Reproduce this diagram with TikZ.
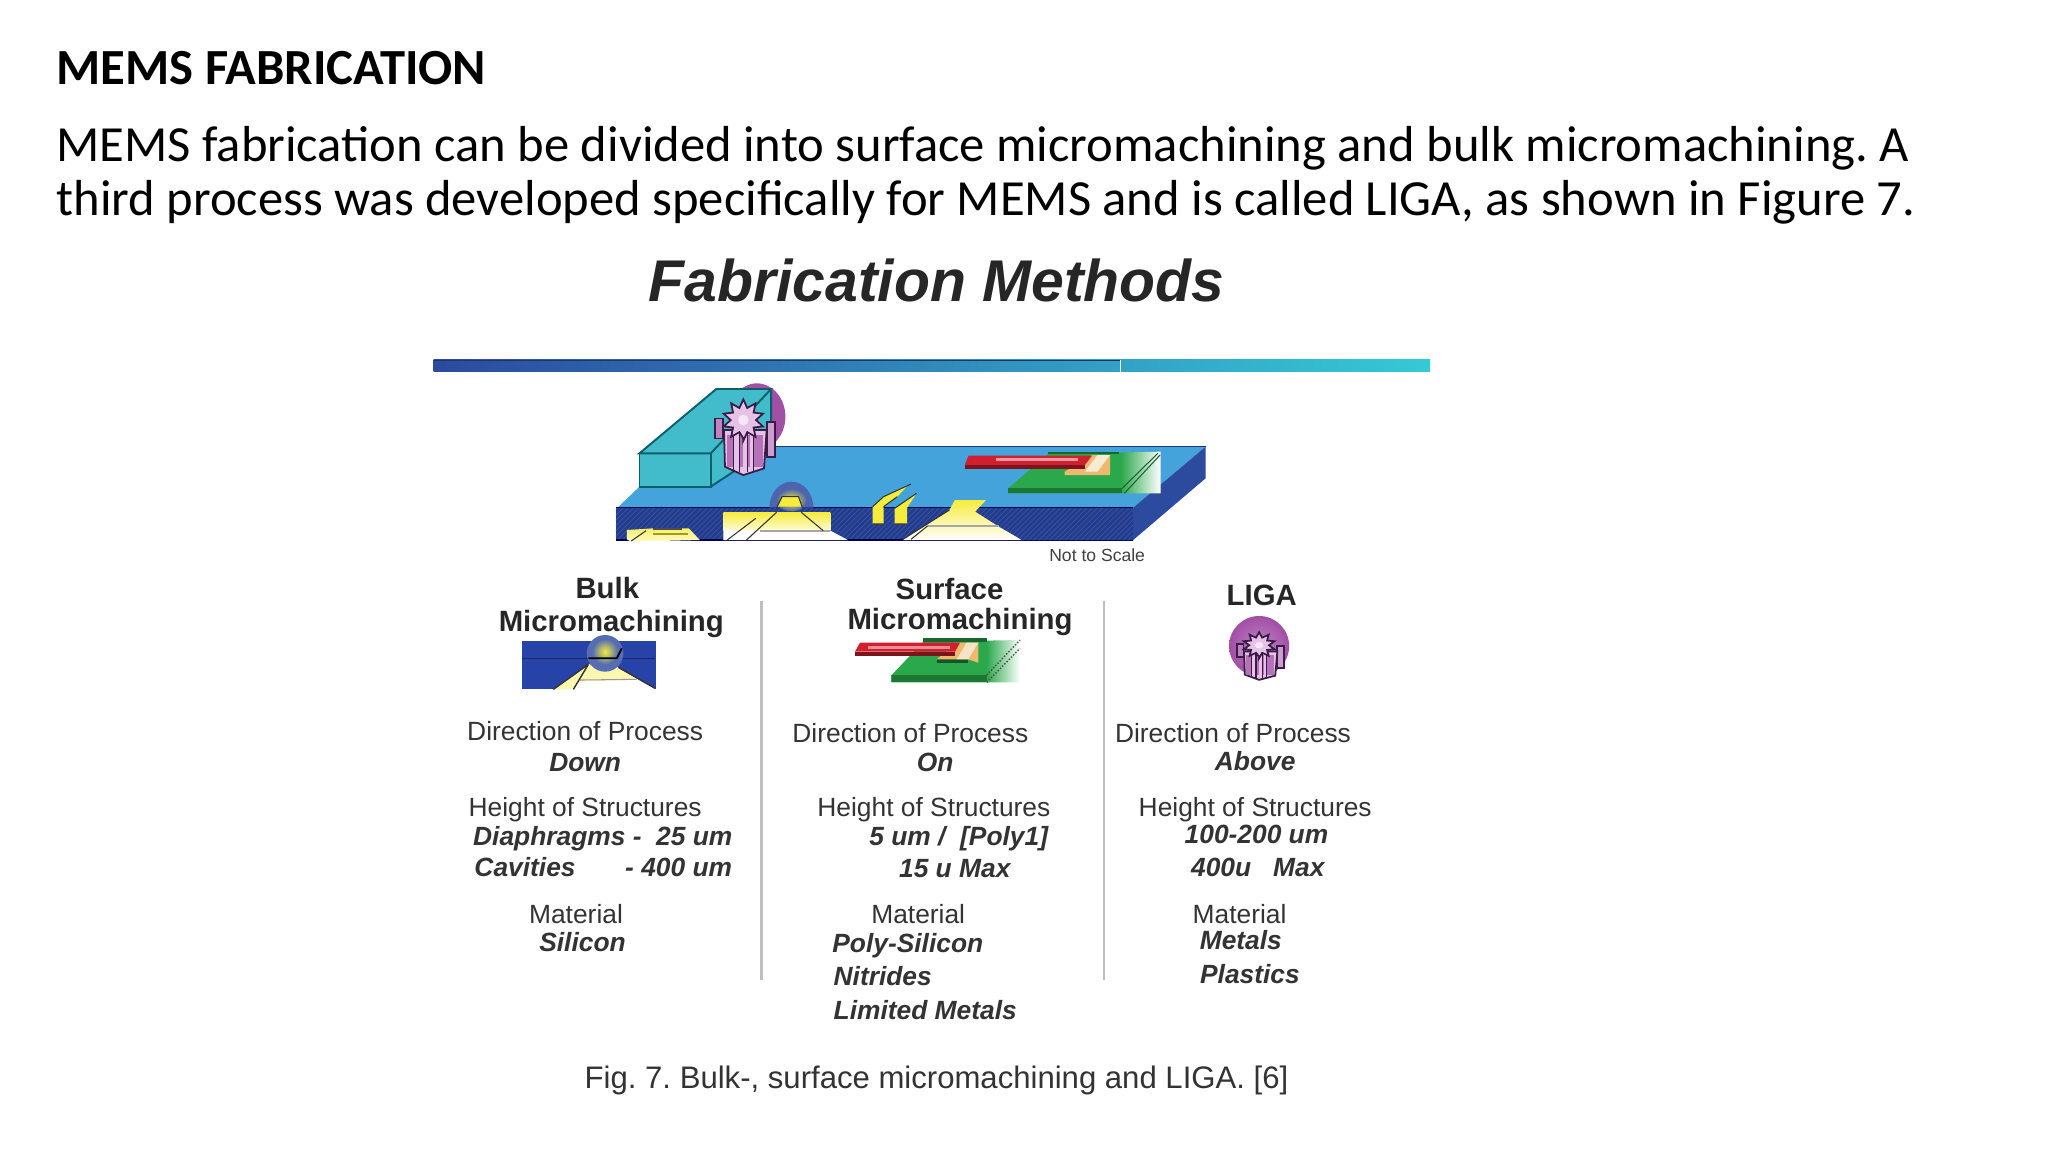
\documentclass[tikz,border=0pt]{standalone}
\usepackage{fontspec}
\setmainfont{Carlito}
\newfontfamily\figfont{Liberation Sans}
\usetikzlibrary{patterns}
\definecolor{topblue}{HTML}{45A3DC}
\definecolor{sideblue}{HTML}{2C4A9E}
\definecolor{frontblue}{HTML}{233C8C}
\definecolor{hatchblue}{HTML}{3A55A8}
\definecolor{blockteal}{HTML}{42BCCB}
\definecolor{edgeteal}{HTML}{0C5E6C}
\definecolor{gearpurple}{HTML}{A24FA6}
\definecolor{gearlight}{HTML}{E6C3E6}
\definecolor{gearedge}{HTML}{3A1B45}
\definecolor{padgreen}{HTML}{2BA84C}
\definecolor{beamred}{HTML}{D0202F}
\definecolor{anchortan}{HTML}{EDB96E}
\definecolor{cavyellow}{HTML}{F6EC3C}
\definecolor{txtgray}{HTML}{333333}
\pgfdeclarehorizontalshading{padfade}{100bp}{color(0bp)=(padgreen); color(62bp)=(padgreen); color(75bp)=(white); color(100bp)=(white)}
\tikzset{
  lbl/.style={font=\figfont\fontsize{15}{18}\selectfont,text=txtgray,inner sep=0pt},
  val/.style={font=\figfont\bfseries\itshape\fontsize{15}{18}\selectfont,text=txtgray,inner sep=0pt},
  head/.style={font=\figfont\bfseries\fontsize{16.7}{20}\selectfont,text=black!85,inner sep=0pt},
  sep/.style={draw=black!25,line width=1.2pt},
  cavline/.style={draw=black!80,line width=0.6pt},
}
% gear: x, y, x unit, y unit
\newcommand{\mygear}[4]{
\begin{scope}[shift={(#1,#2)},x=#3,y=#4]
\draw [gearedge,fill=gearpurple!70,line width=1pt] (-85,-5) -- (-60,-5) -- (-60,55) -- (-85,55) -- cycle;
\draw [gearedge,fill=gearpurple!55,line width=1pt] (70,5) -- (95,5) -- (95,110) -- (70,110) -- cycle;
\draw [gearedge,fill=gearlight,line width=1pt] (-58,30) -- (-55,140) -- (0,165) -- (62,145) -- (70,30) -- cycle;
\foreach \xa/\xb in {-50/-30,-12/-2,12/20,30/58}
  \fill [gearpurple!80] (\xa,45) rectangle (\xb,140);
\foreach \xa in {-30,-12,12,30}
  \draw [gearedge,line width=0.6pt] (\xa,40) -- (\xa,155);
\draw [gearedge,fill=gearlight,line width=1pt]
  (90:55) \foreach \a in {18,54,...,342} { -- (90+\a:38) -- (90+\a+18:62) } -- cycle;
\fill [white,opacity=0.6] (0,0) circle (16);
\end{scope}
}
\frenchspacing
\begin{document}
\begin{tikzpicture}[x=0.026122cm,y=-0.026122cm]
\useasboundingbox (0,0) rectangle (1568,882);
\fill [white] (0,0) rectangle (1568,882);

% slide text
\node (pagetitle) [anchor=base west,inner sep=0pt,font=\bfseries\fontsize{28.8}{34}\selectfont] at (43,65) {MEMS FABRICATION};
\node (lineone) [anchor=base west,inner sep=0pt,font=\fontsize{28.8}{34}\selectfont] at (43,124) {MEMS fabrication can be divided into surface micromachining and bulk micromachining. A};
\node (linetwo) [anchor=base west,inner sep=0pt,font=\fontsize{28.8}{34}\selectfont] at (43,165) {third process was developed specifically for MEMS and is called LIGA, as shown in Figure 7.};

\node (figtitle) [inner sep=0pt,text=black!85,font=\figfont\bfseries\itshape\fontsize{33.5}{38}\selectfont] at (717,215) {Fabrication Methods};
\shade [left color=sideblue,middle color=topblue!85!black,right color=blockteal!80!cyan] (332,275.5) rectangle (1095,284.5);
\draw [sideblue!70!black,line width=0.5pt] (332,275.7) -- (858,275.7);
\draw [white,line width=0.5pt] (858,275.5) -- (858,284.5);

% process model, upper part
\begin{scope}[shift={(321.6,260.3)},x=0.01097cm,y=-0.00667cm]
\fill [topblue] (360,503) -- (400,440) -- (640,320) -- (1432,320) -- (1300,503) -- cycle;
\draw [sideblue!70!black,line width=0.8pt] (640,320) -- (1432,320);
\fill [sideblue] (1300,503) -- (1432,320) -- (1432,415) -- (1300,600) -- cycle;
\fill [frontblue] (357,503) rectangle (1300,600);
\fill [pattern=north east lines,pattern color=hatchblue] (357,503) rectangle (1300,600);
\draw [black!70!blue,line width=0.8pt] (357,503) -- (1300,503) (357,600) -- (1300,600);
% purple dome
\fill [gearpurple] (614,230) ellipse (52 and 100);
% block
\fill [blockteal] (400,440) -- (400,340) -- (540,147) -- (640,147) -- (640,320) -- (530,440) -- cycle;
\draw [edgeteal,line width=1.1pt] (400,340) -- (540,147) -- (640,147) -- (530,340) -- cycle;
\draw [edgeteal,line width=1.1pt] (400,340) -- (400,440) -- (530,440) -- (530,340);
\draw [edgeteal,line width=1.1pt] (640,147) -- (640,320) -- (530,440);
% bubble
\fill [sideblue!85!white] (637,503) arc (180:360:40 and 78) -- cycle;
\shade [inner color=cavyellow,outer color=sideblue!85!white] (677,480) ellipse (28 and 34);
% left pit
\shade [top color=cavyellow!80!white,bottom color=cavyellow!25!white] (377,570) -- (425,565) -- (490,565) -- (510,600) -- (385,605) -- (377,598) -- cycle;
\fill [black!70] (425,565) rectangle (478,571);
\draw [cavline] (385,603) -- (412,572);
\fill [black!35!cavyellow] (425,578) rectangle (488,584);
% middle pit
\shade [top color=cavyellow,bottom color=cavyellow!20!white] (553,517) rectangle (748,572);
\fill [white] (553,572) -- (748,572) -- (780,600) -- (553,600) -- cycle;
\draw [black!35,line width=1pt] (620,572) -- (748,572);
\draw [cavline] (595,600) -- (650,517) (695,517) -- (735,572) (560,600) -- (612,535);
\fill [cavyellow] (660,470) -- (690,470) -- (697,500) -- (650,500) -- cycle;
\draw [cavline] (650,503) -- (660,470) -- (690,470) -- (697,503);
% posts
\fill [cavyellow] (825,500) -- (845,470) -- (890,435) -- (870,470) -- (845,500) -- (845,552) -- (825,552) -- cycle;
\fill [cavyellow] (865,505) -- (905,460) -- (888,503) -- (888,552) -- (865,552) -- cycle;
\draw [cavline] (825,500) -- (845,470) -- (895,432) (845,500) -- (870,470) (865,505) -- (905,460) (825,552) -- (845,552) (865,552) -- (888,552);
% right pit
\shade [top color=cavyellow,bottom color=white] (975,480) -- (1032,480) -- (1012,515) -- (1055,560) -- (1097,600) -- (880,600) -- (965,510) -- cycle;
\draw [black!35,line width=1pt] (925,558) -- (1055,558);
\draw [cavline] (880,598) -- (965,510) (895,598) -- (925,558);
\fill [frontblue] (1030,520) -- (1300,520) -- (1300,600) -- (1097,600) -- cycle;
\fill [pattern=north east lines,pattern color=hatchblue] (1030,520) -- (1300,520) -- (1300,600) -- (1097,600) -- cycle;
% pad
\shade [shading=padfade] (1072,445) -- (1145,342) -- (1350,335) -- (1350,460) -- (1072,460) -- cycle;
\fill [padgreen!70!black] (1072,445) rectangle (1280,460);
\draw [padgreen!60!black,line width=0.6pt] (1280,445) -- (1345,340) (1284,460) -- (1349,345);
\fill [black!40!padgreen] (1145,335) rectangle (1275,343);
% anchor
\fill [anchortan] (1175,395) -- (1225,345) -- (1258,345) -- (1258,405) -- (1175,405) -- cycle;
\fill [white,opacity=0.7] (1235,345) -- (1258,345) -- (1235,395) -- (1212,395) -- cycle;
% beam
\fill [beamred] (1000,347) -- (1225,347) -- (1212,375) -- (993,375) -- cycle;
\fill [white,opacity=0.55] (1050,354) rectangle (1200,362);
\fill [beamred!60!black] (993,375) rectangle (1212,388);
\end{scope}
\mygear{569.1}{321.6}{0.00667cm}{-0.00667cm}
\node (noscale) [inner sep=0pt,text=black!75,font=\figfont\fontsize{10}{12}\selectfont] at (840,425) {Not to Scale};

% column heads
\node (bulkone) [head] at (465,450) {Bulk};
\node (bulktwo) [head] at (468,478) {Micromachining};
\node (surfone) [head] at (727,451) {Surface};
\node (surftwo) [head] at (735,476) {Micromachining};
\node (ligaone) [head] at (966,456) {LIGA};

% bulk icon
\begin{scope}[shift={(336.9,436.4)},x=0.00667cm,y=-0.00667cm]
\fill [sideblue!90!blue] (245,212) rectangle (648,358);
\draw [frontblue!70!black,line width=0.8pt] (245,265) -- (645,265);
\fill [white] (340,358) -- (445,283) -- (535,292) -- (645,355) -- (645,358) -- cycle;
\fill [cavyellow!40!white] (340,358) -- (445,283) -- (535,292) -- (590,328) -- (420,335) -- (400,358) -- cycle;
\draw [black!40,line width=0.6pt] (420,330) -- (590,328);
\draw [black!80,line width=0.8pt] (340,358) -- (445,283) (535,292) -- (645,355) (400,358) -- (445,283);
\fill [sideblue!80!white] (495,250) circle (55);
\shade [inner color=cavyellow,outer color=sideblue!80!white] (495,245) circle (38);
\draw [black,line width=1pt] (445,265) -- (530,265) (530,265) -- (545,235);
\end{scope}

% surface icon
\begin{scope}[shift={(643.1,474.7)},x=0.00667cm,y=-0.00667cm]
\shade [shading=padfade] (155,165) -- (250,65) -- (540,60) -- (540,187) -- (155,187) -- cycle;
\fill [padgreen!70!black] (155,165) rectangle (440,187);
\draw [black!70,densely dotted,line width=0.8pt] (440,165) -- (540,60) (440,187) -- (540,85);
\fill [black!40!padgreen] (250,55) rectangle (440,66);
\fill [padgreen!50!black] (290,118) rectangle (385,130);
\fill [anchortan] (290,118) -- (350,68) -- (415,68) -- (415,128) -- (385,118) -- cycle;
\fill [white,opacity=0.6] (380,68) -- (415,68) -- (385,118) -- (350,118) -- cycle;
\fill [beamred] (60,68) -- (360,68) -- (345,95) -- (45,95) -- cycle;
\fill [white,opacity=0.5] (85,78) rectangle (330,86);
\fill [beamred!60!black] (45,95) rectangle (345,108);
\end{scope}

% liga icon
\shade [inner color=gearpurple!70,outer color=gearpurple] (964,494.6) circle (23);
\mygear{964}{494}{0.0052cm}{-0.0042cm}

% bulk column
\draw [sep] (583,460) -- (583,750);
\node (dirbulk) [lbl] at (448,560) {Direction of Process};
\node (dirbulkval) [val] at (448,584) {Down};
\node (hgtbulk) [lbl] at (448,620) {Height of Structures};
\node (hgtbulkone) [val,anchor=west] at (362,642) {Diaphragms -\ \ 25 um};
\node (hgtbulktwo) [val,anchor=west] at (363,664) {Cavities\hspace{1.05em}\ \ \ - 400 um};
\node (matbulk) [lbl] at (441,700) {Material};
\node (matbulkval) [val] at (446,721) {Silicon};

% surface column
\draw [sep] (845,460) -- (845,750);
\node (dirsurf) [lbl] at (697,561) {Direction of Process};
\node (dirsurfval) [val] at (716,584) {On};
\node (hgtsurf) [lbl] at (715,620) {Height of Structures};
\node (hgtsurfone) [val] at (734,642) {5 um /\ \ [Poly1]};
\node (hgtsurftwo) [val] at (731,665) {15 u Max};
\node (matsurf) [lbl] at (703,700) {Material};
\node (matsurfone) [val,anchor=west] at (637,724) {Poly-Silicon};
\node (matsurftwo) [val,anchor=west] at (638,747) {Nitrides};
\node (matsurfthree) [val,anchor=west] at (638,773) {Limited Metals};

% liga column
\node (dirliga) [lbl] at (944,561) {Direction of Process};
\node (dirligaval) [val] at (961,583) {Above};
\node (hgtliga) [lbl] at (961,620) {Height of Structures};
\node (hgtligaone) [val] at (962,639) {100-200 um};
\node (hgtligatwo) [val] at (963,664) {400u\ \ \ Max};
\node (matliga) [lbl] at (949,700) {Material};
\node (matligaone) [val] at (950,720) {Metals};
\node (matligatwo) [val] at (957,746) {Plastics};

\node (caption) [inner sep=0pt,text=black!80,font=\figfont\fontsize{17.7}{21}\selectfont] at (717,827) {Fig. 7. Bulk-, surface micromachining and LIGA. [6]};
\end{tikzpicture}
\end{document}
